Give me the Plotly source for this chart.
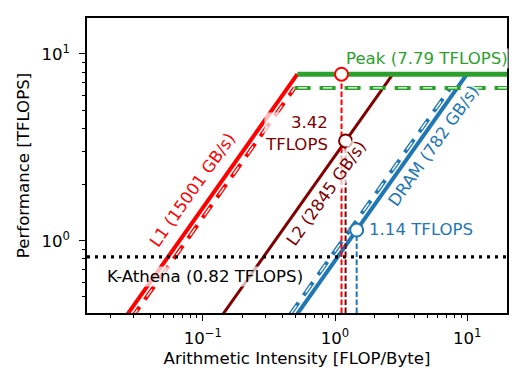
import numpy as np
import plotly.graph_objects as go

# ---------------- data ----------------
levels = ["L1", "L2", "DRAM"]
bandwidth_gbs = [15001, 2845, 782]            # solid rooflines
bandwidth_alt_gbs = [13300, None, 880]        # dashed rooflines (estimated)
peak_tflops = 7.79
peak_alt_tflops = 6.58
app_name = "K-Athena"
app_tflops = 0.82
app_ai = [1.12, 1.202, 1.458]                 # FLOP/Byte per level
app_perf = [7.79, 3.42, 1.14]                 # TFLOPS per level
x_limits = [0.0133, 20.0]
y_limits = [app_tflops / 2, peak_tflops * 2]
x_tick_vals = [0.1, 1, 10]
x_tick_text = ["10<sup>−1</sup>", "10<sup>0</sup>", "10<sup>1</sup>"]
y_tick_vals = [1, 10]
y_tick_text = ["10<sup>0</sup>", "10<sup>1</sup>"]

colors = {"L1": "#ff0000", "L2": "#800000", "DRAM": "#1f77b4"}
peak_color = "#2ca02c"

FONT = "DejaVu Sans"
FS = 16.6

fig = go.Figure()
xmin, xmax = x_limits
ymin, ymax = y_limits

OUT_DASH = "16px,9px"
IN_DASH = "0px,3.5px,9px,12.5px"


def add_line(x, y, color, width, dash="solid"):
    fig.add_trace(go.Scatter(x=x, y=y, mode="lines",
                             line=dict(color=color, width=width, dash=dash),
                             hoverinfo="skip", showlegend=False))


def add_hollow_dashed(x, y, color):
    add_line(x, y, color, 4, OUT_DASH)
    add_line(x, y, "white", 1.4, IN_DASH)


# solid rooflines
for lvl, bw in zip(levels, bandwidth_gbs):
    b = bw / 1000.0
    ridge = peak_tflops / b
    add_line([xmin, ridge], [b * xmin, peak_tflops], colors[lvl],
             3 if lvl == "L2" else 4)
ridge_l1 = peak_tflops / (bandwidth_gbs[0] / 1000.0)
add_line([ridge_l1, xmax], [peak_tflops, peak_tflops], peak_color, 5)

# dashed rooflines
for lvl, bw in zip(levels, bandwidth_alt_gbs):
    if bw is None:
        continue
    b = bw / 1000.0
    ridge = peak_alt_tflops / b
    add_hollow_dashed([xmin, ridge], [b * xmin, peak_alt_tflops], colors[lvl])
ridge_alt_l1 = peak_alt_tflops / (bandwidth_alt_gbs[0] / 1000.0)
add_hollow_dashed([ridge_alt_l1, xmax], [peak_alt_tflops, peak_alt_tflops], peak_color)

# application line
add_line([xmin, xmax], [app_tflops, app_tflops], "black", 3.2, "3px,5px")

# vertical drop lines and markers
for lvl, ai, perf in zip(levels, app_ai, app_perf):
    add_line([ai, ai], [ymin, perf], colors[lvl], 2, "5.5px,2.5px")
for lvl, ai, perf in zip(levels, app_ai, app_perf):
    fig.add_trace(go.Scatter(x=[ai], y=[perf], mode="markers",
                             marker=dict(symbol="circle", size=13, color="white",
                                         line=dict(color=colors[lvl], width=2)),
                             hoverinfo="skip", showlegend=False, cliponaxis=False))

# ---------------- layout helpers ----------------
L, R, T, B = 87, 18, 18, 77
W, H = 525, 390
PW, PH = W - L - R, H - T - B


def px(xp):
    return (xp - L) / PW


def py(yp):
    return 1 - (yp - T) / PH


BG = "rgba(255,255,255,0.7)"
slope_angle = -np.degrees(np.arctan(
    (PH / np.log10(ymax / ymin)) / (PW / np.log10(xmax / xmin))))

annotations = [
    dict(text=f"Peak ({peak_tflops:.2f} TFLOPS)", x=px(345), y=py(58.5),
         xanchor="left", yanchor="middle", font=dict(color=peak_color)),
    dict(text=f"{app_perf[1]:.2f}<br>TFLOPS", x=px(329), y=py(133.5),
         xanchor="right", yanchor="middle", align="right",
         font=dict(color=colors["L2"])),
    dict(text=f"{app_perf[2]:.2f} TFLOPS", x=px(368), y=py(229.5),
         xanchor="left", yanchor="middle", font=dict(color=colors["DRAM"])),
    dict(text=f"{app_name} ({app_tflops:.2f} TFLOPS)", x=px(106), y=py(276),
         xanchor="left", yanchor="middle", font=dict(color="black")),
    dict(text=f"L1 ({bandwidth_gbs[0]} GB/s)", x=px(192), y=py(190),
         xanchor="center", yanchor="middle", textangle=slope_angle,
         font=dict(color=colors["L1"])),
    dict(text=f"L2 ({bandwidth_gbs[1]} GB/s)", x=px(326), y=py(193),
         xanchor="center", yanchor="middle", textangle=slope_angle,
         font=dict(color=colors["L2"])),
    dict(text=f"DRAM ({bandwidth_gbs[2]} GB/s)", x=px(433), y=py(146),
         xanchor="center", yanchor="middle", textangle=slope_angle,
         font=dict(color=colors["DRAM"])),
]
for a in annotations:
    a.update(xref="paper", yref="paper", showarrow=False, bgcolor=BG,
             borderpad=0)
    a["font"].update(family=FONT, size=FS)


def minor_vals(lo, hi):
    out = []
    for e in range(-3, 3):
        for m in range(2, 10):
            v = m * 10.0 ** e
            if lo < v < hi:
                out.append(v)
    return out


axis_common = dict(type="log", showgrid=False, zeroline=False,
                   showline=True, linecolor="black", linewidth=1.5, mirror=True,
                   ticks="outside", ticklen=6, tickwidth=1.4, tickcolor="black",
                   tickfont=dict(family=FONT, size=FS, color="black"))

fig.update_layout(
    width=W, height=H,
    margin=dict(l=L, r=R, t=T, b=B, autoexpand=False),
    paper_bgcolor="white", plot_bgcolor="white",
    font=dict(family=FONT, size=FS, color="black"),
    annotations=annotations,
    xaxis=dict(**axis_common,
               range=[np.log10(xmin), np.log10(xmax)],
               tickvals=x_tick_vals, ticktext=x_tick_text,
               ticklabelstandoff=3,
               minor=dict(tickvals=minor_vals(xmin, xmax), ticks="outside",
                          ticklen=3.5, tickwidth=1.1, tickcolor="black"),
               title=dict(text="Arithmetic Intensity [FLOP/Byte]",
                          font=dict(family=FONT, size=FS), standoff=6)),
    yaxis=dict(**axis_common,
               range=[np.log10(ymin), np.log10(ymax)],
               tickvals=y_tick_vals, ticktext=y_tick_text,
               ticklabelstandoff=6,
               minor=dict(tickvals=minor_vals(ymin, ymax), ticks="outside",
                          ticklen=3.5, tickwidth=1.1, tickcolor="black"),
               title=dict(text="Performance [TFLOPS]",
                          font=dict(family=FONT, size=FS), standoff=8)),
)

fig.write_html("out.html",
               config={"displayModeBar": False},
               post_script="document.body.style.margin='0';"
                           "document.body.style.overflow='hidden';")
